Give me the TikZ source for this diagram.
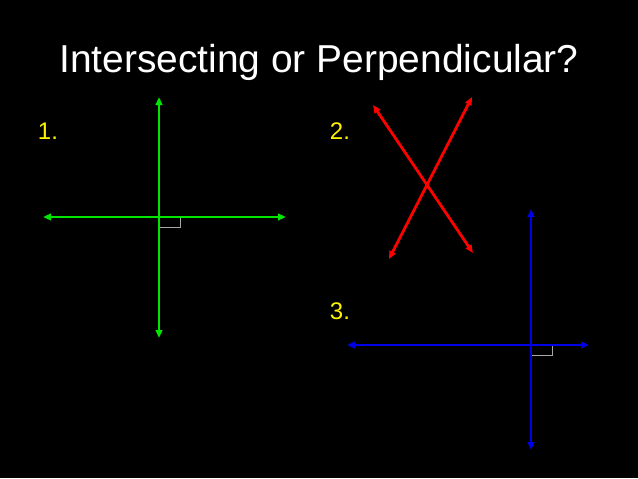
\documentclass[tikz,border=0pt]{standalone}
\usepackage{fontspec}
\setmainfont{Liberation Sans}
\usetikzlibrary{arrows.meta}
\begin{document}
\begin{tikzpicture}[x=0.75pt,y=-0.75pt,
  ln/.style={line width=2.1pt,{Triangle[length=6pt,width=5pt]}-{Triangle[length=6pt,width=5pt]}},
  ra/.style={draw=gray!70,line width=0.6pt},
  num/.style={text=yellow,font=\fontsize{18}{21}\selectfont}]
\fill[black] (0,0) rectangle (638,478);
\useasboundingbox (0,0) rectangle (638,478);
\node[text=white,font=\fontsize{29.2}{35}\selectfont] (title) at (319,62) {Intersecting or Perpendicular?};
\node[num] (n1) at (48,131) {1.};
\node[num] (n2) at (340,131) {2.};
\node[num] (n3) at (340,311) {3.};
% green
\coordinate (g1) at (159,97); \coordinate (g2) at (159,338);
\coordinate (g3) at (43,217); \coordinate (g4) at (286,217);
\draw[ra] (159,227) -- (180,227) -- (180,217);
\draw[ln,color={rgb,255:red,0;green,230;blue,0}] (g1) -- (g2);
\draw[ln,color={rgb,255:red,0;green,230;blue,0}] (g3) -- (g4);
% red
\coordinate (r1) at (373,105); \coordinate (r2) at (473,253);
\coordinate (r3) at (472,97); \coordinate (r4) at (389,259);
\draw[ln,red] (r1) -- (r2);
\draw[ln,red] (r3) -- (r4);
% blue
\coordinate (b1) at (531,209); \coordinate (b2) at (531,450);
\coordinate (b3) at (347,345); \coordinate (b4) at (589,345);
\draw[ra] (531,366) -- (531,355) -- (552,355) -- (552,345);
\draw[ln,color={rgb,255:red,0;green,0;blue,230}] (b1) -- (b2);
\draw[ln,color={rgb,255:red,0;green,0;blue,230}] (b3) -- (b4);
\end{tikzpicture}
\end{document}
